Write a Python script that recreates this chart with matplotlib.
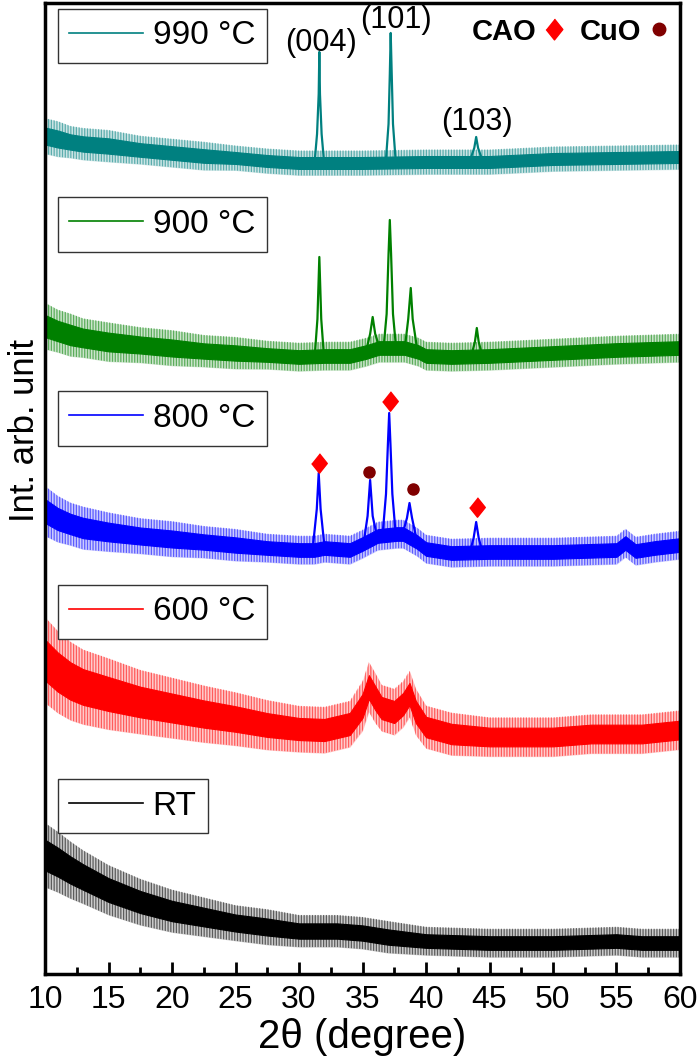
import numpy as np
import matplotlib.pyplot as plt
from matplotlib.lines import Line2D

plt.rcParams["font.family"] = ["Liberation Sans", "DejaVu Sans"]
plt.rcParams["hatch.linewidth"] = 0.9

# ---- data (y in arbitrary units, 0 = axis bottom) ----
# each pattern: baseline band (x, centre, half thickness of the dense noise)
rt_x = [10, 11, 12, 13, 15, 17.5, 20, 22.5, 25, 27.5, 30, 33, 35, 37, 40, 45, 50, 55, 57, 60]
rt_mid = [119, 112, 104, 97, 84, 72, 63, 57, 51, 47, 43, 43, 41, 37, 33, 31, 31, 33, 31, 31]
rt_half = [18, 17, 16, 15, 14, 13, 12, 11, 10, 10, 9, 9, 9, 9, 8, 8, 8, 8, 8, 8]

red_x = [10, 11, 12, 13, 15, 17.5, 20, 22.5, 25, 27.5, 30, 32, 34, 35, 35.5, 36, 36.5,
         37.5, 38.2, 38.7, 39.2, 40, 42, 45, 50, 53, 55, 57, 60]
red_mid = [314, 302, 293, 287, 280, 272, 266, 260, 255, 249, 245, 244, 250, 268, 287, 276, 266,
           262, 270, 280, 262, 247, 240, 237, 237, 240, 240, 240, 244]
red_half = [24, 23, 22, 21, 20, 18, 17, 16, 15, 14, 13, 13, 13, 14, 14, 14, 13,
            13, 13, 13, 13, 12, 12, 11, 11, 11, 11, 11, 11]

blue_x = [10, 11, 12, 13, 15, 17.5, 20, 22.5, 25, 27.5, 30, 31.2, 32, 34, 35, 36.2, 37.7,
          38.2, 39.3, 40, 42, 45, 50, 55, 55.7, 56.5, 58, 60]
blue_mid = [463, 455, 450, 446, 442, 438, 435, 432, 429, 426, 424, 424, 426, 424, 430, 438, 440,
            440, 432, 425, 421, 422, 422, 424, 431, 423, 426, 429]
blue_half = [14, 13, 12, 12, 11, 10, 10, 9, 9, 8, 8, 8, 8, 8, 8, 8, 8,
             8, 8, 8, 8, 8, 8, 8, 8, 8, 8, 8]

green_x = [10, 11, 12, 13, 15, 17.5, 20, 22.5, 25, 27.5, 30, 32, 34, 35.3, 36.3, 36.8, 37.6,
           38.3, 39.4, 40, 42, 45, 50, 55, 60]
green_mid = [648, 643, 639, 636, 632, 629, 626, 623, 621, 619, 617, 618, 618, 622, 626, 626, 626,
             626, 622, 618, 617, 618, 621, 624, 626]
green_half = [13, 12, 12, 11, 11, 10, 10, 9, 9, 8, 8, 8, 8, 8, 8, 8, 8,
              8, 8, 8, 8, 8, 8, 8, 8]

teal_x = [10, 11, 12, 13, 15, 17.5, 20, 22.5, 25, 27.5, 30, 35, 40, 45, 50, 55, 60]
teal_mid = [838, 835, 832, 830, 828, 824, 821, 818, 816, 813, 811, 811, 812, 812, 815, 816, 817]
teal_half = [10, 10, 9, 9, 9, 8, 8, 8, 7, 7, 7, 7, 7, 7, 7, 7, 7]

# sharp diffraction peaks (NaN separates peaks)
nan = np.nan
teal_pk_x = [31.25, 31.42, 31.55, 31.6, 31.65, 31.78, 31.95, nan,
             36.85, 37.05, 37.15, 37.22, 37.3, 37.4, 37.6, nan,
             43.5, 43.8, 43.95, 44.1, 44.4]
teal_pk_y = [815, 840, 880, 922, 880, 840, 815, nan,
             815, 850, 900, 941, 900, 850, 815, nan,
             815, 826, 837, 826, 815]

green_pk_x = [31.25, 31.45, 31.6, 31.75, 31.95, nan,
              35.3, 35.6, 35.8, 36.0, 36.3, nan,
              36.7, 36.9, 37.05, 37.15, 37.25, 37.4, 37.6, nan,
              38.35, 38.6, 38.8, 38.95, 39.3, nan,
              43.6, 43.85, 44.0, 44.15, 44.4]
green_pk_y = [620, 655, 717, 655, 620, nan,
              624, 640, 657, 640, 628, nan,
              632, 660, 720, 754, 720, 660, 632, nan,
              628, 655, 686, 655, 625, nan,
              620, 632, 646, 632, 620]

blue_pk_x = [31.1, 31.4, 31.55, 31.7, 32.0, nan,
             35.1, 35.4, 35.6, 35.8, 36.1, nan,
             36.6, 36.85, 37.0, 37.1, 37.2, 37.35, 37.6, nan,
             38.2, 38.5, 38.7, 38.9, 39.3, nan,
             43.5, 43.75, 43.95, 44.15, 44.4]
blue_pk_y = [428, 465, 501, 465, 428, nan,
             432, 458, 494, 458, 440, nan,
             442, 480, 530, 561, 530, 480, 442, nan,
             442, 456, 471, 456, 432, nan,
             424, 436, 452, 436, 424]

# phase markers on the 800 C pattern
cao_x = [31.6, 37.2, 44.0]
cao_y = [511, 573, 467]
cuo_x = [35.55, 39.0]
cuo_y = [502, 485]

# Miller indices on the 990 C pattern
hkl_labels = ["(004)", "(101)", "(103)"]
hkl_x = [31.7, 37.6, 44.0]
hkl_y = [931, 954, 852]

labels = ["990 \u00b0C", "900 \u00b0C", "800 \u00b0C", "600 \u00b0C", "RT"]
colors = ["#008080", "#008000", "#0000ff", "#ff0000", "#000000"]
legend_top = [0.994, 0.800, 0.600, 0.401, 0.201]

bands = [(teal_x, teal_mid, teal_half), (green_x, green_mid, green_half),
         (blue_x, blue_mid, blue_half), (red_x, red_mid, red_half),
         (rt_x, rt_mid, rt_half)]
peaks = [(teal_pk_x, teal_pk_y), (green_pk_x, green_pk_y), (blue_pk_x, blue_pk_y), None, None]

fig = plt.figure(figsize=(6.97, 10.63), dpi=100)
ax = fig.add_axes([0.0646, 0.0837, 0.911, 0.9135])

for (bx, bm, bh), pk, c in zip(bands, peaks, colors):
    bx = np.array(bx)
    bm = np.array(bm, dtype=float)
    bh = 0.85 * np.array(bh, dtype=float)
    # spiky fringe of the noise, then the dense core
    ax.fill_between(bx, bm - 2.1 * bh, bm + 2.1 * bh, color=c, alpha=0.2, lw=0)
    ax.fill_between(bx, bm - 2.1 * bh, bm + 2.1 * bh, facecolor="none",
                    edgecolor=c, hatch="||||||", lw=0, alpha=0.55)
    ax.fill_between(bx, bm - bh, bm + bh, color=c, lw=0.8, ec=c)
    if pk is not None:
        ax.plot(pk[0], pk[1], color=c, lw=1.6)

diamond = [(0, 1), (0.8, 0), (0, -1), (-0.8, 0)]
ax.plot(cao_x, cao_y, ls="none", marker=diamond, ms=14, color="#ff0000")
ax.plot(cuo_x, cuo_y, ls="none", marker="o", ms=8, color="#800000")

for t, x, y in zip(hkl_labels, hkl_x, hkl_y):
    ax.text(x, y, t, fontsize=22, ha="center", va="center")

# one boxed legend per pattern
for lab, c, top in zip(labels, colors, legend_top):
    h = Line2D([], [], color=c, lw=1.2)
    lg = ax.legend([h], [lab], loc="upper left", bbox_to_anchor=(0.02, top),
                   fontsize=24, handlelength=2.2, handletextpad=0.3,
                   borderpad=0.35, borderaxespad=0, fancybox=False,
                   framealpha=1, edgecolor="#333333")
    lg.get_frame().set_linewidth(1.0)
    ax.add_artist(lg)

# phase key
h1 = Line2D([], [], ls="none", marker=diamond, ms=15, color="#ff0000")
h2 = Line2D([], [], ls="none", marker="o", ms=9, color="#800000")
ax.legend([h1, h2], ["CAO", "CuO"], loc="upper right", bbox_to_anchor=(0.981, 0.985),
          ncol=2, markerfirst=False, frameon=False, handlelength=0.6,
          handletextpad=0.3, columnspacing=0.6, borderpad=0, borderaxespad=0,
          prop={"weight": "bold", "size": 21})

ax.set_xlim(10, 60)
ax.set_ylim(0, 971)
ax.set_xticks(np.arange(10, 61, 5))
ax.set_xticks(np.arange(12.5, 60, 5), minor=True)
ax.set_yticks([])
ax.tick_params(axis="x", which="major", direction="in", length=9, width=2,
               labelsize=23, pad=8)
ax.tick_params(axis="x", which="minor", direction="in", length=5, width=2)
for s in ax.spines.values():
    s.set_linewidth(2.5)

ax.set_xlabel("2\u03b8 (degree)", fontsize=29, labelpad=2)
ax.set_ylabel("Int. arb. unit", fontsize=25)
ax.yaxis.set_label_coords(-0.007, 0.56)

fig.savefig("out.png", dpi=100)
